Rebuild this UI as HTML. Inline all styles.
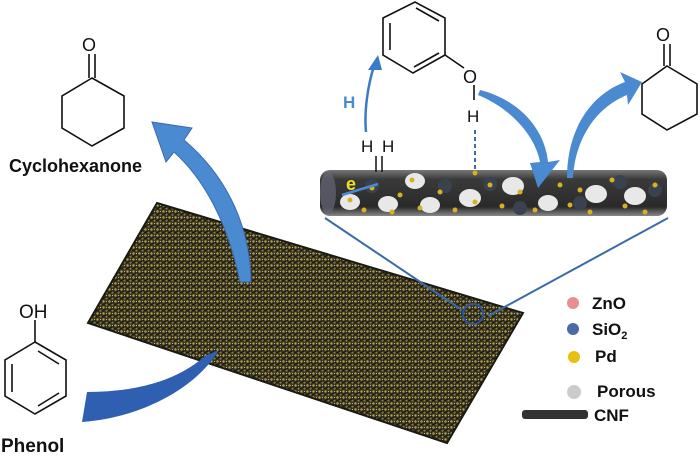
<!DOCTYPE html>
<html><head><style>
body{margin:0;background:#fff;width:700px;height:456px;overflow:hidden}
svg text{font-family:"Liberation Sans",Arial,sans-serif}
</style></head><body>
<svg width="700" height="456" viewBox="0 0 700 456" xmlns="http://www.w3.org/2000/svg">
<defs>
<pattern id="dots" width="6" height="6" patternUnits="userSpaceOnUse">
<rect width="6" height="6" fill="#34311f"/>
<circle cx="1.5" cy="1.5" r="1.2" fill="#b8a040"/>
<circle cx="4.5" cy="4.5" r="1.1" fill="#8a7a38"/>
<circle cx="4.5" cy="1.5" r="0.6" fill="#bbb"/>
<line x1="0" y1="5" x2="6" y2="2.5" stroke="#111" stroke-width="0.8"/>
</pattern>
<linearGradient id="tube" x1="0" y1="0" x2="0" y2="1">
<stop offset="0" stop-color="#777"/><stop offset="0.2" stop-color="#3a3a3a"/><stop offset="0.8" stop-color="#2a2a2a"/><stop offset="1" stop-color="#888"/>
</linearGradient>
</defs>
<polygon points="157,203 523,313 447,443 88,323" fill="url(#dots)" stroke="#1a1a14" stroke-width="2"/>
<line x1="325" y1="218" x2="462" y2="310" stroke="#3b6aa8" stroke-width="2"/>
<line x1="668" y1="218" x2="488" y2="316" stroke="#3b6aa8" stroke-width="2"/>
<circle cx="473" cy="314" r="10" fill="none" stroke="#2a55a0" stroke-width="2"/>
<rect x="320" y="170" width="347" height="46" rx="10" fill="url(#tube)"/>
<ellipse cx="328" cy="193" rx="8" ry="21" fill="#667" opacity="0.7"/>
<g fill="#3a4250">
<circle cx="372" cy="186" r="7"/><circle cx="445" cy="186" r="7"/><circle cx="490" cy="184" r="7"/><circle cx="580" cy="203" r="7"/><circle cx="620" cy="182" r="7"/><circle cx="655" cy="190" r="7"/><circle cx="520" cy="208" r="7"/>
</g>
<g fill="#e8e8e8">
<ellipse cx="350" cy="202" rx="10" ry="8"/><ellipse cx="388" cy="204" rx="10" ry="8"/><ellipse cx="415" cy="181" rx="10" ry="8"/><ellipse cx="430" cy="205" rx="10" ry="8"/><ellipse cx="470" cy="198" rx="11" ry="9"/><ellipse cx="513" cy="186" rx="11" ry="9"/><ellipse cx="548" cy="203" rx="10" ry="8"/><ellipse cx="596" cy="194" rx="11" ry="9"/><ellipse cx="635" cy="196" rx="11" ry="9"/>
</g>
<g fill="#d8b020">
<circle cx="350" cy="200" r="2.5"/><circle cx="372" cy="188" r="2.5"/><circle cx="392" cy="212" r="2.5"/><circle cx="412" cy="180" r="2.5"/><circle cx="440" cy="192" r="2.5"/><circle cx="455" cy="210" r="2.5"/><circle cx="475" cy="202" r="2.5"/><circle cx="490" cy="185" r="2.5"/><circle cx="520" cy="192" r="2.5"/><circle cx="535" cy="210" r="2.5"/><circle cx="560" cy="185" r="2.5"/><circle cx="570" cy="205" r="2.5"/><circle cx="590" cy="212" r="2.5"/><circle cx="612" cy="180" r="2.5"/><circle cx="625" cy="206" r="2.5"/><circle cx="645" cy="212" r="2.5"/><circle cx="655" cy="185" r="2.5"/><circle cx="400" cy="195" r="2.5"/><circle cx="502" cy="206" r="2.5"/><circle cx="580" cy="190" r="2.5"/><circle cx="475" cy="173" r="2.5"/><circle cx="364" cy="210" r="2.5"/><circle cx="420" cy="208" r="2.5"/>
</g>
<text x="346" y="190" font-size="18" font-weight="bold" fill="#f0e020">e</text>
<path d="M342,195 L378,184" stroke="#4a8ad0" stroke-width="2.5"/>
<g stroke="#111" stroke-width="1.6" fill="none">
<polygon points="92,78 124,96 124,128 92,146 62,128 62,96"/>
<line x1="89" y1="78" x2="89" y2="54"/><line x1="95" y1="78" x2="95" y2="54"/>
</g>
<text x="82" y="51" font-size="18" fill="#111">O</text>
<text x="9" y="172" font-size="18" font-weight="bold" fill="#111">Cyclohexanone</text>
<path d="M251,282 C250,220 222,172 184,140 L192,128 L152,122 L166,162 L174,152 C203,178 228,222 240,282 Z" fill="#4a8ad0" stroke="#3a6ab0"/>
<path d="M82,422 C142,418 197,387 219,350 L205,356 C178,380 138,392 87,392 Z" fill="#2f5fb0"/>
<g stroke="#111" stroke-width="1.6" fill="none">
<polygon points="35,342 66,360 66,396 35,414 5,396 5,360"/>
<line x1="35" y1="342" x2="35" y2="320"/>
<line x1="12" y1="364" x2="12" y2="392"/><line x1="59" y1="364" x2="38" y2="351"/><line x1="59" y1="393" x2="38" y2="406"/>
</g>
<text x="19" y="318" font-size="19" fill="#111">OH</text>
<text x="1" y="452" font-size="19" font-weight="bold" fill="#111">Phenol</text>
<g stroke="#111" stroke-width="1.6" fill="none">
<polygon points="383,18 415,2 445,18 445,55 413,73 383,55"/>
<line x1="390" y1="23" x2="390" y2="50"/><line x1="416" y1="8" x2="439" y2="21"/><line x1="414" y1="67" x2="439" y2="53"/>
<line x1="445" y1="55" x2="464" y2="68"/>
<line x1="474" y1="85" x2="474" y2="100"/>
</g>
<text x="463" y="83" font-size="18" fill="#111">O</text>
<text x="467" y="122" font-size="17" fill="#111">H</text>
<line x1="475" y1="130" x2="475" y2="172" stroke="#3a6ab0" stroke-width="2" stroke-dasharray="4,3"/>
<text x="361" y="152" font-size="17" fill="#111">H</text><text x="382" y="152" font-size="17" fill="#111">H</text>
<line x1="376" y1="156" x2="376" y2="172" stroke="#111" stroke-width="1.5"/><line x1="382" y1="156" x2="382" y2="172" stroke="#111" stroke-width="1.5"/>
<text x="343" y="108" font-size="17" font-weight="bold" fill="#4a8ad0">H</text>
<path d="M366,132 C364,110 368,85 374,66" stroke="#3a7ac8" stroke-width="2.5" fill="none"/>
<polygon points="378,55 368,70 382,70" fill="#3a7ac8"/>
<path d="M480,90 C520,100 545,130 548,162 L560,160 L538,188 L530,163 L540,162 C535,135 510,108 478,95 Z" fill="#4a8ad0"/>
<path d="M567,178 C567,130 590,95 625,82 L620,72 L642,82 L628,105 L627,95 C595,108 575,140 573,178 Z" fill="#4a8ad0"/>
<g stroke="#111" stroke-width="1.6" fill="none">
<polygon points="667,66 697,84 697,114 667,130 642,114 642,84"/>
<line x1="664" y1="66" x2="664" y2="44"/><line x1="670" y1="66" x2="670" y2="44"/>
</g>
<text x="656" y="41" font-size="18" fill="#111">O</text>
<circle cx="573" cy="303" r="6" fill="#e89090"/><text x="592" y="309" font-size="17" font-weight="bold" fill="#111">ZnO</text>
<circle cx="573" cy="329" r="6" fill="#4a6aa8"/><text x="592" y="335" font-size="17" font-weight="bold" fill="#111">SiO<tspan font-size="11" dy="4">2</tspan></text>
<circle cx="574" cy="357" r="6" fill="#e8c010"/><text x="595" y="362" font-size="17" font-weight="bold" fill="#111">Pd</text>
<circle cx="574" cy="392" r="7" fill="#ccc"/><text x="597" y="397" font-size="17" font-weight="bold" fill="#111">Porous</text>
<rect x="522" y="410" width="66" height="9" rx="3" fill="#333"/><text x="594" y="421" font-size="17" font-weight="bold" fill="#111">CNF</text>
</svg>
</body></html>
